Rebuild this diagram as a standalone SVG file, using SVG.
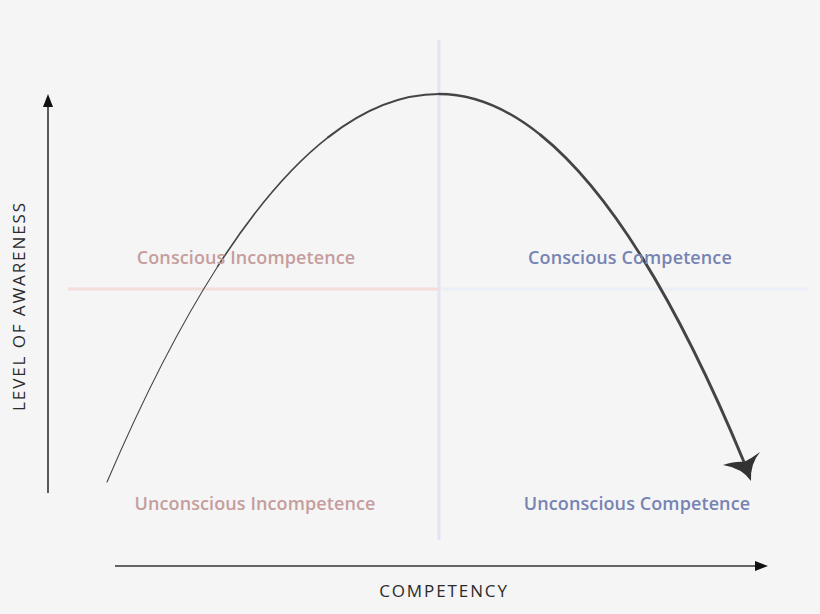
<svg xmlns="http://www.w3.org/2000/svg" width="820" height="614" viewBox="0 0 820 614">
<style>
.lbl{font-family:"Open Sans","Liberation Sans",sans-serif;font-size:18px;font-weight:600;text-anchor:middle;letter-spacing:0.1px}
.pink{fill:#c69d9d}
.blue{fill:#7783b3}
.axl{font-family:"Open Sans","Liberation Sans",sans-serif;font-size:17px;fill:#2a2a2a;letter-spacing:1.9px;text-anchor:middle}
.ax{stroke:#333;stroke-width:1.6;fill:none}
.curve{stroke:#444;fill:none;stroke-linecap:round}
</style>
<rect width="820" height="614" fill="#f5f5f5"/>
<g id="dividers">
<line x1="439" y1="40" x2="439" y2="540" stroke="#e2e4f4" stroke-width="3"/>
<line x1="68" y1="289" x2="439" y2="289" stroke="#f4dedb" stroke-width="3"/>
<line x1="441" y1="289" x2="808" y2="289" stroke="#eceef8" stroke-width="3"/>
</g>
<g id="connectors">
<line class="ax" x1="48" y1="493" x2="48" y2="104"/>
<polygon points="48,94 43,107 53,107" fill="#111"/>
<line class="ax" x1="115" y1="566" x2="758" y2="566"/>
<polygon points="768,566 755,561 755,571" fill="#111"/>
<path class="curve" stroke-width="1.1" d="M107,482 Q162.33,352.67 217.67,266.44"/>
<path class="curve" stroke-width="1.6" d="M217.67,266.44 Q273,180.22 328.33,137.11"/>
<path class="curve" stroke-width="2.1" d="M328.33,137.11 Q383.67,94 439,94"/>
<path class="curve" stroke-width="2.4" d="M439,94 Q489.67,94 540.44,134.89"/>
<path class="curve" stroke-width="2.7" d="M540.44,134.89 Q591.22,175.78 642.11,257.56"/>
<path class="curve" stroke-width="3" d="M642.11,257.56 Q693,339.33 744,462"/>
<path d="M723,465 Q736,461 744,462 Q752,458 760,452 Q750,464 751,481 Q742,468 723,465 Z" fill="#333"/>
</g>
<g id="q1"><text class="lbl pink" x="246" y="264">Conscious Incompetence</text></g>
<g id="q2"><text class="lbl blue" x="630" y="264">Conscious Competence</text></g>
<g id="q3"><text class="lbl pink" x="255" y="510">Unconscious Incompetence</text></g>
<g id="q4"><text class="lbl blue" x="637" y="510">Unconscious Competence</text></g>
<g id="xlabel"><text class="axl" x="444" y="597">COMPETENCY</text></g>
<g id="ylabel"><text class="axl" transform="translate(25,306) rotate(-90)">LEVEL OF AWARENESS</text></g>
</svg>
